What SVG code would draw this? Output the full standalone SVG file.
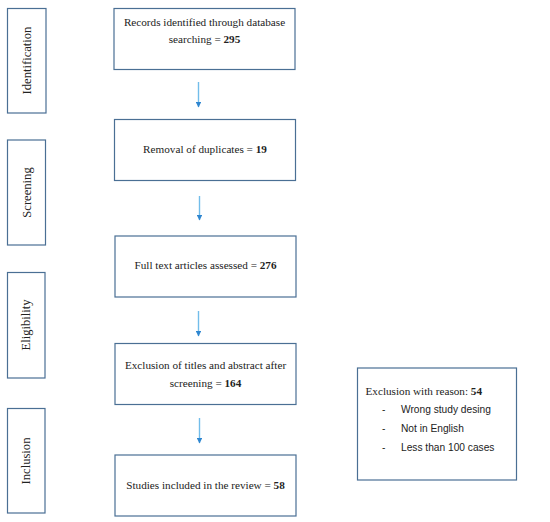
<svg xmlns="http://www.w3.org/2000/svg" width="550" height="522" viewBox="0 0 550 522">
<style>
.box{fill:#fff;stroke:#4a6f94;stroke-width:1.2}
.t{font-family:"Liberation Serif",serif;font-size:11.2px;fill:#222;text-anchor:middle}
.b{font-weight:bold}
.s{font-family:"Liberation Sans","Noto Sans",sans-serif;font-size:10.2px;fill:#222}
.lab{font-family:"Liberation Serif",serif;font-size:12.6px;fill:#222;text-anchor:middle}
.arr{stroke:#72bdea;stroke-width:1.4;fill:none;marker-end:url(#ah)}
</style>
<defs>
<marker id="ah" viewBox="0 0 10 10" refX="9" refY="5" markerWidth="4" markerHeight="4" orient="auto" markerUnits="strokeWidth">
<path d="M0,0 L10,5 L0,10 z" fill="#2f86d0"/>
</marker>
</defs>
<rect width="550" height="522" fill="#fff"/>
<g id="stage-identification"><rect class="box" x="7.5" y="8.5" width="38.5" height="104.5"/><text class="lab" transform="translate(30.5,60.5) rotate(-90)">Identification</text></g>
<g id="stage-screening"><rect class="box" x="7.5" y="140" width="38" height="105"/><text class="lab" transform="translate(30.5,192.5) rotate(-90)">Screening</text></g>
<g id="stage-eligibility"><rect class="box" x="7.5" y="272.5" width="37.5" height="105.5"/><text class="lab" transform="translate(30,325) rotate(-90)">Eligibility</text></g>
<g id="stage-inclusion"><rect class="box" x="7.5" y="408.5" width="37.5" height="104.5"/><text class="lab" transform="translate(30,461) rotate(-90)">Inclusion</text></g>
<g id="n1"><rect class="box" x="114" y="8.5" width="181" height="61"/><text class="t" x="204.5" y="26">Records identified through database</text><text class="t" x="204.5" y="43">searching = <tspan class="b">295</tspan></text></g>
<g id="n2"><rect class="box" x="114.5" y="119.5" width="181" height="61"/><text class="t" x="205" y="153">Removal of duplicates = <tspan class="b">19</tspan></text></g>
<g id="n3"><rect class="box" x="115" y="236" width="181" height="61"/><text class="t" x="205.5" y="269">Full text articles assessed = <tspan class="b">276</tspan></text></g>
<g id="n4"><rect class="box" x="115" y="343.5" width="181" height="61"/><text class="t" x="205.5" y="369">Exclusion of titles and abstract after</text><text class="t" x="205.5" y="387">screening = <tspan class="b">164</tspan></text></g>
<g id="n5"><rect class="box" x="115" y="455" width="181" height="61"/><text class="t" x="205.5" y="489">Studies included in the review = <tspan class="b">58</tspan></text></g>
<g id="n6"><rect class="box" x="357.5" y="368" width="159" height="112"/>
<text class="t" x="365.5" y="395" style="text-anchor:start">Exclusion with reason: <tspan class="b">54</tspan></text>
<text class="s" x="382" y="413">-</text><text class="s" x="401" y="413">Wrong study desing</text>
<text class="s" x="382" y="432">-</text><text class="s" x="401" y="432">Not in English</text>
<text class="s" x="382" y="451">-</text><text class="s" x="401" y="451">Less than 100 cases</text>
</g>
<g id="connectors">
<line class="arr" x1="198.5" y1="82" x2="198.5" y2="107"/>
<line class="arr" x1="199.5" y1="196" x2="199.5" y2="220"/>
<line class="arr" x1="198.5" y1="311" x2="198.5" y2="336"/>
<line class="arr" x1="199.5" y1="418" x2="199.5" y2="443"/>
</g>
</svg>
